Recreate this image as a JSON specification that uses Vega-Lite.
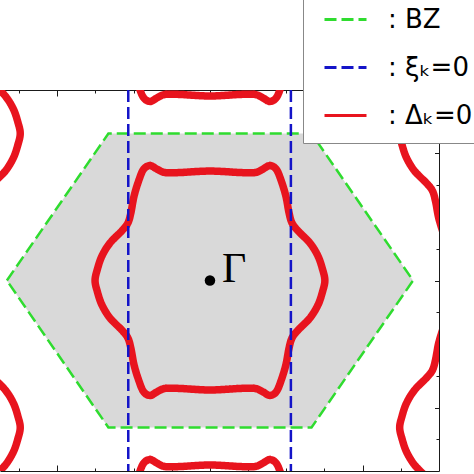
{
  "$schema": "https://vega.github.io/schema/vega-lite/v6.json",
  "autosize": "none",
  "width": 439,
  "height": 381,
  "padding": {"left": 0, "top": 90, "right": 35, "bottom": 3},
  "background": "white",
  "config": {
    "view": {"stroke": null},
    "axis": {"grid": false, "labels": false, "title": null, "domainColor": "#1a1a1a", "tickColor": "#1a1a1a", "domainWidth": 1, "tickWidth": 1},
    "legend": {"padding": 14, "rowPadding": 12, "symbolType": "stroke", "symbolSize": 1764, "symbolStrokeWidth": 3, "symbolOffset": 6,
               "labelOffset": 20, "labelFont": "DejaVu Sans", "labelFontSize": 26, "labelColor": "#000", "labelLimit": 300,
               "fillColor": "white", "strokeColor": "#888", "zindex": 5}
  },
  "datasets": {
    "hex": [
      {"x": -5.32, "y": 0, "y2": 0},
      {"x": -2.66, "y": 4.63, "y2": -4.63},
      {"x": 2.66, "y": 4.63, "y2": -4.63},
      {"x": 5.32, "y": 0, "y2": 0}
    ],
    "bz": [
      {"o": 0, "x": -5.32, "y": 0, "s": ": BZ"},
      {"o": 1, "x": -2.66, "y": 4.63, "s": ": BZ"},
      {"o": 2, "x": 2.66, "y": 4.63, "s": ": BZ"},
      {"o": 3, "x": 5.32, "y": 0, "s": ": BZ"},
      {"o": 4, "x": 2.66, "y": -4.63, "s": ": BZ"},
      {"o": 5, "x": -2.66, "y": -4.63, "s": ": BZ"},
      {"o": 6, "x": -5.32, "y": 0, "s": ": BZ"}
    ],
    "xi": [
      {"x": -2.14, "s": ": ξₖ=0"},
      {"x": 2.12, "s": ": ξₖ=0"}
    ],
    "gamma": [{"x": 0, "y": 0, "label": "Γ"}],
    "delta": [
      {"c": "C", "o": 0, "x": 0, "y": 3.45, "s": ": Δₖ=0"},
      {"c": "C", "o": 1, "x": 0.39, "y": 3.43, "s": ": Δₖ=0"},
      {"c": "C", "o": 2, "x": 0.79, "y": 3.40, "s": ": Δₖ=0"},
      {"c": "C", "o": 3, "x": 1.18, "y": 3.40, "s": ": Δₖ=0"},
      {"c": "C", "o": 4, "x": 1.39, "y": 3.51, "s": ": Δₖ=0"},
      {"c": "C", "o": 5, "x": 1.57, "y": 3.62, "s": ": Δₖ=0"},
      {"c": "C", "o": 6, "x": 1.74, "y": 3.50, "s": ": Δₖ=0"},
      {"c": "C", "o": 7, "x": 1.87, "y": 3.13, "s": ": Δₖ=0"},
      {"c": "C", "o": 8, "x": 1.99, "y": 2.65, "s": ": Δₖ=0"},
      {"c": "C", "o": 9, "x": 2.07, "y": 2.14, "s": ": Δₖ=0"},
      {"c": "C", "o": 10, "x": 2.15, "y": 1.81, "s": ": Δₖ=0"},
      {"c": "C", "o": 11, "x": 2.31, "y": 1.56, "s": ": Δₖ=0"},
      {"c": "C", "o": 12, "x": 2.62, "y": 1.18, "s": ": Δₖ=0"},
      {"c": "C", "o": 13, "x": 2.83, "y": 0.77, "s": ": Δₖ=0"},
      {"c": "C", "o": 14, "x": 2.95, "y": 0.35, "s": ": Δₖ=0"},
      {"c": "C", "o": 15, "x": 3.01, "y": 0, "s": ": Δₖ=0"},
      {"c": "C", "o": 16, "x": 2.95, "y": -0.35, "s": ": Δₖ=0"},
      {"c": "C", "o": 17, "x": 2.83, "y": -0.77, "s": ": Δₖ=0"},
      {"c": "C", "o": 18, "x": 2.62, "y": -1.18, "s": ": Δₖ=0"},
      {"c": "C", "o": 19, "x": 2.31, "y": -1.56, "s": ": Δₖ=0"},
      {"c": "C", "o": 20, "x": 2.15, "y": -1.81, "s": ": Δₖ=0"},
      {"c": "C", "o": 21, "x": 2.07, "y": -2.14, "s": ": Δₖ=0"},
      {"c": "C", "o": 22, "x": 1.99, "y": -2.65, "s": ": Δₖ=0"},
      {"c": "C", "o": 23, "x": 1.87, "y": -3.13, "s": ": Δₖ=0"},
      {"c": "C", "o": 24, "x": 1.74, "y": -3.50, "s": ": Δₖ=0"},
      {"c": "C", "o": 25, "x": 1.57, "y": -3.62, "s": ": Δₖ=0"},
      {"c": "C", "o": 26, "x": 1.39, "y": -3.51, "s": ": Δₖ=0"},
      {"c": "C", "o": 27, "x": 1.18, "y": -3.40, "s": ": Δₖ=0"},
      {"c": "C", "o": 28, "x": 0.79, "y": -3.40, "s": ": Δₖ=0"},
      {"c": "C", "o": 29, "x": 0.39, "y": -3.43, "s": ": Δₖ=0"},
      {"c": "C", "o": 30, "x": 0, "y": -3.45, "s": ": Δₖ=0"},
      {"c": "C", "o": 31, "x": -0.39, "y": -3.43, "s": ": Δₖ=0"},
      {"c": "C", "o": 32, "x": -0.79, "y": -3.40, "s": ": Δₖ=0"},
      {"c": "C", "o": 33, "x": -1.18, "y": -3.40, "s": ": Δₖ=0"},
      {"c": "C", "o": 34, "x": -1.39, "y": -3.51, "s": ": Δₖ=0"},
      {"c": "C", "o": 35, "x": -1.57, "y": -3.62, "s": ": Δₖ=0"},
      {"c": "C", "o": 36, "x": -1.74, "y": -3.50, "s": ": Δₖ=0"},
      {"c": "C", "o": 37, "x": -1.87, "y": -3.13, "s": ": Δₖ=0"},
      {"c": "C", "o": 38, "x": -1.99, "y": -2.65, "s": ": Δₖ=0"},
      {"c": "C", "o": 39, "x": -2.07, "y": -2.14, "s": ": Δₖ=0"},
      {"c": "C", "o": 40, "x": -2.15, "y": -1.81, "s": ": Δₖ=0"},
      {"c": "C", "o": 41, "x": -2.31, "y": -1.56, "s": ": Δₖ=0"},
      {"c": "C", "o": 42, "x": -2.62, "y": -1.18, "s": ": Δₖ=0"},
      {"c": "C", "o": 43, "x": -2.83, "y": -0.77, "s": ": Δₖ=0"},
      {"c": "C", "o": 44, "x": -2.95, "y": -0.35, "s": ": Δₖ=0"},
      {"c": "C", "o": 45, "x": -3.01, "y": 0, "s": ": Δₖ=0"},
      {"c": "C", "o": 46, "x": -2.95, "y": 0.35, "s": ": Δₖ=0"},
      {"c": "C", "o": 47, "x": -2.83, "y": 0.77, "s": ": Δₖ=0"},
      {"c": "C", "o": 48, "x": -2.62, "y": 1.18, "s": ": Δₖ=0"},
      {"c": "C", "o": 49, "x": -2.31, "y": 1.56, "s": ": Δₖ=0"},
      {"c": "C", "o": 50, "x": -2.15, "y": 1.81, "s": ": Δₖ=0"},
      {"c": "C", "o": 51, "x": -2.07, "y": 2.14, "s": ": Δₖ=0"},
      {"c": "C", "o": 52, "x": -1.99, "y": 2.65, "s": ": Δₖ=0"},
      {"c": "C", "o": 53, "x": -1.87, "y": 3.13, "s": ": Δₖ=0"},
      {"c": "C", "o": 54, "x": -1.74, "y": 3.50, "s": ": Δₖ=0"},
      {"c": "C", "o": 55, "x": -1.57, "y": 3.62, "s": ": Δₖ=0"},
      {"c": "C", "o": 56, "x": -1.39, "y": 3.51, "s": ": Δₖ=0"},
      {"c": "C", "o": 57, "x": -1.18, "y": 3.40, "s": ": Δₖ=0"},
      {"c": "C", "o": 58, "x": -0.79, "y": 3.40, "s": ": Δₖ=0"},
      {"c": "C", "o": 59, "x": -0.39, "y": 3.43, "s": ": Δₖ=0"},
      {"c": "C", "o": 60, "x": 0, "y": 3.45, "s": ": Δₖ=0"},

      {"c": "T", "o": 0, "x": 2.07, "y": 7.12, "s": ": Δₖ=0"},
      {"c": "T", "o": 1, "x": 1.99, "y": 6.61, "s": ": Δₖ=0"},
      {"c": "T", "o": 2, "x": 1.87, "y": 6.13, "s": ": Δₖ=0"},
      {"c": "T", "o": 3, "x": 1.74, "y": 5.76, "s": ": Δₖ=0"},
      {"c": "T", "o": 4, "x": 1.57, "y": 5.64, "s": ": Δₖ=0"},
      {"c": "T", "o": 5, "x": 1.39, "y": 5.75, "s": ": Δₖ=0"},
      {"c": "T", "o": 6, "x": 1.18, "y": 5.86, "s": ": Δₖ=0"},
      {"c": "T", "o": 7, "x": 0.79, "y": 5.86, "s": ": Δₖ=0"},
      {"c": "T", "o": 8, "x": 0.39, "y": 5.83, "s": ": Δₖ=0"},
      {"c": "T", "o": 9, "x": 0, "y": 5.81, "s": ": Δₖ=0"},
      {"c": "T", "o": 10, "x": -0.39, "y": 5.83, "s": ": Δₖ=0"},
      {"c": "T", "o": 11, "x": -0.79, "y": 5.86, "s": ": Δₖ=0"},
      {"c": "T", "o": 12, "x": -1.18, "y": 5.86, "s": ": Δₖ=0"},
      {"c": "T", "o": 13, "x": -1.39, "y": 5.75, "s": ": Δₖ=0"},
      {"c": "T", "o": 14, "x": -1.57, "y": 5.64, "s": ": Δₖ=0"},
      {"c": "T", "o": 15, "x": -1.74, "y": 5.76, "s": ": Δₖ=0"},
      {"c": "T", "o": 16, "x": -1.87, "y": 6.13, "s": ": Δₖ=0"},
      {"c": "T", "o": 17, "x": -1.99, "y": 6.61, "s": ": Δₖ=0"},
      {"c": "T", "o": 18, "x": -2.07, "y": 7.12, "s": ": Δₖ=0"},

      {"c": "B", "o": 0, "x": -2.07, "y": -7.12, "s": ": Δₖ=0"},
      {"c": "B", "o": 1, "x": -1.99, "y": -6.61, "s": ": Δₖ=0"},
      {"c": "B", "o": 2, "x": -1.87, "y": -6.13, "s": ": Δₖ=0"},
      {"c": "B", "o": 3, "x": -1.74, "y": -5.76, "s": ": Δₖ=0"},
      {"c": "B", "o": 4, "x": -1.57, "y": -5.64, "s": ": Δₖ=0"},
      {"c": "B", "o": 5, "x": -1.39, "y": -5.75, "s": ": Δₖ=0"},
      {"c": "B", "o": 6, "x": -1.18, "y": -5.86, "s": ": Δₖ=0"},
      {"c": "B", "o": 7, "x": -0.79, "y": -5.86, "s": ": Δₖ=0"},
      {"c": "B", "o": 8, "x": -0.39, "y": -5.83, "s": ": Δₖ=0"},
      {"c": "B", "o": 9, "x": 0, "y": -5.81, "s": ": Δₖ=0"},
      {"c": "B", "o": 10, "x": 0.39, "y": -5.83, "s": ": Δₖ=0"},
      {"c": "B", "o": 11, "x": 0.79, "y": -5.86, "s": ": Δₖ=0"},
      {"c": "B", "o": 12, "x": 1.18, "y": -5.86, "s": ": Δₖ=0"},
      {"c": "B", "o": 13, "x": 1.39, "y": -5.75, "s": ": Δₖ=0"},
      {"c": "B", "o": 14, "x": 1.57, "y": -5.64, "s": ": Δₖ=0"},
      {"c": "B", "o": 15, "x": 1.74, "y": -5.76, "s": ": Δₖ=0"},
      {"c": "B", "o": 16, "x": 1.87, "y": -6.13, "s": ": Δₖ=0"},
      {"c": "B", "o": 17, "x": 1.99, "y": -6.61, "s": ": Δₖ=0"},
      {"c": "B", "o": 18, "x": 2.07, "y": -7.12, "s": ": Δₖ=0"},

      {"c": "RU", "o": 0, "x": 6.11, "y": 7.76, "s": ": Δₖ=0"},
      {"c": "RU", "o": 1, "x": 5.99, "y": 7.28, "s": ": Δₖ=0"},
      {"c": "RU", "o": 2, "x": 5.91, "y": 6.77, "s": ": Δₖ=0"},
      {"c": "RU", "o": 3, "x": 5.83, "y": 6.44, "s": ": Δₖ=0"},
      {"c": "RU", "o": 4, "x": 5.67, "y": 6.19, "s": ": Δₖ=0"},
      {"c": "RU", "o": 5, "x": 5.36, "y": 5.81, "s": ": Δₖ=0"},
      {"c": "RU", "o": 6, "x": 5.15, "y": 5.40, "s": ": Δₖ=0"},
      {"c": "RU", "o": 7, "x": 5.03, "y": 4.98, "s": ": Δₖ=0"},
      {"c": "RU", "o": 8, "x": 4.97, "y": 4.63, "s": ": Δₖ=0"},
      {"c": "RU", "o": 9, "x": 5.03, "y": 4.28, "s": ": Δₖ=0"},
      {"c": "RU", "o": 10, "x": 5.15, "y": 3.86, "s": ": Δₖ=0"},
      {"c": "RU", "o": 11, "x": 5.36, "y": 3.45, "s": ": Δₖ=0"},
      {"c": "RU", "o": 12, "x": 5.67, "y": 3.07, "s": ": Δₖ=0"},
      {"c": "RU", "o": 13, "x": 5.83, "y": 2.82, "s": ": Δₖ=0"},
      {"c": "RU", "o": 14, "x": 5.91, "y": 2.49, "s": ": Δₖ=0"},
      {"c": "RU", "o": 15, "x": 5.99, "y": 1.98, "s": ": Δₖ=0"},
      {"c": "RU", "o": 16, "x": 6.11, "y": 1.50, "s": ": Δₖ=0"},

      {"c": "RD", "o": 0, "x": 6.11, "y": -1.50, "s": ": Δₖ=0"},
      {"c": "RD", "o": 1, "x": 5.99, "y": -1.98, "s": ": Δₖ=0"},
      {"c": "RD", "o": 2, "x": 5.91, "y": -2.49, "s": ": Δₖ=0"},
      {"c": "RD", "o": 3, "x": 5.83, "y": -2.82, "s": ": Δₖ=0"},
      {"c": "RD", "o": 4, "x": 5.67, "y": -3.07, "s": ": Δₖ=0"},
      {"c": "RD", "o": 5, "x": 5.36, "y": -3.45, "s": ": Δₖ=0"},
      {"c": "RD", "o": 6, "x": 5.15, "y": -3.86, "s": ": Δₖ=0"},
      {"c": "RD", "o": 7, "x": 5.03, "y": -4.28, "s": ": Δₖ=0"},
      {"c": "RD", "o": 8, "x": 4.97, "y": -4.63, "s": ": Δₖ=0"},
      {"c": "RD", "o": 9, "x": 5.03, "y": -4.98, "s": ": Δₖ=0"},
      {"c": "RD", "o": 10, "x": 5.15, "y": -5.40, "s": ": Δₖ=0"},
      {"c": "RD", "o": 11, "x": 5.36, "y": -5.81, "s": ": Δₖ=0"},
      {"c": "RD", "o": 12, "x": 5.67, "y": -6.19, "s": ": Δₖ=0"},
      {"c": "RD", "o": 13, "x": 5.83, "y": -6.44, "s": ": Δₖ=0"},
      {"c": "RD", "o": 14, "x": 5.91, "y": -6.77, "s": ": Δₖ=0"},
      {"c": "RD", "o": 15, "x": 5.99, "y": -7.28, "s": ": Δₖ=0"},
      {"c": "RD", "o": 16, "x": 6.11, "y": -7.76, "s": ": Δₖ=0"},

      {"c": "LU", "o": 0, "x": -6.11, "y": 7.76, "s": ": Δₖ=0"},
      {"c": "LU", "o": 1, "x": -5.99, "y": 7.28, "s": ": Δₖ=0"},
      {"c": "LU", "o": 2, "x": -5.91, "y": 6.77, "s": ": Δₖ=0"},
      {"c": "LU", "o": 3, "x": -5.83, "y": 6.44, "s": ": Δₖ=0"},
      {"c": "LU", "o": 4, "x": -5.67, "y": 6.19, "s": ": Δₖ=0"},
      {"c": "LU", "o": 5, "x": -5.36, "y": 5.81, "s": ": Δₖ=0"},
      {"c": "LU", "o": 6, "x": -5.15, "y": 5.40, "s": ": Δₖ=0"},
      {"c": "LU", "o": 7, "x": -5.03, "y": 4.98, "s": ": Δₖ=0"},
      {"c": "LU", "o": 8, "x": -4.97, "y": 4.63, "s": ": Δₖ=0"},
      {"c": "LU", "o": 9, "x": -5.03, "y": 4.28, "s": ": Δₖ=0"},
      {"c": "LU", "o": 10, "x": -5.15, "y": 3.86, "s": ": Δₖ=0"},
      {"c": "LU", "o": 11, "x": -5.36, "y": 3.45, "s": ": Δₖ=0"},
      {"c": "LU", "o": 12, "x": -5.67, "y": 3.07, "s": ": Δₖ=0"},
      {"c": "LU", "o": 13, "x": -5.83, "y": 2.82, "s": ": Δₖ=0"},
      {"c": "LU", "o": 14, "x": -5.91, "y": 2.49, "s": ": Δₖ=0"},
      {"c": "LU", "o": 15, "x": -5.99, "y": 1.98, "s": ": Δₖ=0"},
      {"c": "LU", "o": 16, "x": -6.11, "y": 1.50, "s": ": Δₖ=0"},

      {"c": "LD", "o": 0, "x": -6.11, "y": -1.50, "s": ": Δₖ=0"},
      {"c": "LD", "o": 1, "x": -5.99, "y": -1.98, "s": ": Δₖ=0"},
      {"c": "LD", "o": 2, "x": -5.91, "y": -2.49, "s": ": Δₖ=0"},
      {"c": "LD", "o": 3, "x": -5.83, "y": -2.82, "s": ": Δₖ=0"},
      {"c": "LD", "o": 4, "x": -5.67, "y": -3.07, "s": ": Δₖ=0"},
      {"c": "LD", "o": 5, "x": -5.36, "y": -3.45, "s": ": Δₖ=0"},
      {"c": "LD", "o": 6, "x": -5.15, "y": -3.86, "s": ": Δₖ=0"},
      {"c": "LD", "o": 7, "x": -5.03, "y": -4.28, "s": ": Δₖ=0"},
      {"c": "LD", "o": 8, "x": -4.97, "y": -4.63, "s": ": Δₖ=0"},
      {"c": "LD", "o": 9, "x": -5.03, "y": -4.98, "s": ": Δₖ=0"},
      {"c": "LD", "o": 10, "x": -5.15, "y": -5.40, "s": ": Δₖ=0"},
      {"c": "LD", "o": 11, "x": -5.36, "y": -5.81, "s": ": Δₖ=0"},
      {"c": "LD", "o": 12, "x": -5.67, "y": -6.19, "s": ": Δₖ=0"},
      {"c": "LD", "o": 13, "x": -5.83, "y": -6.44, "s": ": Δₖ=0"},
      {"c": "LD", "o": 14, "x": -5.91, "y": -6.77, "s": ": Δₖ=0"},
      {"c": "LD", "o": 15, "x": -5.99, "y": -7.28, "s": ": Δₖ=0"},
      {"c": "LD", "o": 16, "x": -6.11, "y": -7.76, "s": ": Δₖ=0"}
    ]
  },
  "layer": [
    {
      "data": {"name": "hex"},
      "mark": {"type": "area", "color": "#d9d9d9", "clip": true},
      "encoding": {
        "x": {"field": "x", "type": "quantitative", "scale": {"domain": [-5.5, 6], "nice": false, "zero": false},
              "axis": {"orient": "bottom", "values": [-5, -4, -3, -2, -1, 0, 1, 2, 3, 4, 5], "tickSize": -3}},
        "y": {"field": "y", "type": "quantitative", "scale": {"domain": [-6, 6], "nice": false, "zero": false},
              "axis": {"orient": "right", "values": [-5, -4, -3, -2, -1, 0, 1, 2, 3, 4, 5], "tickSize": -3}},
        "y2": {"field": "y2"}
      }
    },
    {
      "data": {"name": "bz"},
      "mark": {"type": "line", "strokeWidth": 2.5, "clip": true},
      "encoding": {
        "x": {"field": "x", "type": "quantitative", "axis": {"orient": "top", "values": [-5, -4, -3, -2, -1, 0, 1, 2, 3, 4, 5], "tickSize": -3}},
        "y": {"field": "y", "type": "quantitative", "axis": {"orient": "right", "values": [-4, 0, 4], "tickSize": -4.5, "domain": false}},
        "order": {"field": "o"},
        "color": {"field": "s", "type": "nominal",
                  "scale": {"domain": [": BZ", ": ξₖ=0", ": Δₖ=0"], "range": ["#2fdc2f", "#1414c8", "#e8141e"]},
                  "legend": {"orient": "none", "legendX": 303, "legendY": -107, "title": null, "labelFontSize": 26, "labelFont": "DejaVu Sans", "rowPadding": 12}},
        "strokeDash": {"field": "s", "type": "nominal",
                  "scale": {"domain": [": BZ", ": ξₖ=0", ": Δₖ=0"], "range": [[12, 5], [12, 5], [1, 0]]},
                  "legend": {"orient": "none", "legendX": 303, "legendY": -107, "title": null, "labelFontSize": 26, "labelFont": "DejaVu Sans", "rowPadding": 12}}
      }
    },
    {
      "data": {"name": "delta"},
      "mark": {"type": "line", "strokeWidth": 7.5, "interpolate": "cardinal", "strokeCap": "round", "strokeJoin": "round", "clip": true},
      "encoding": {
        "x": {"field": "x", "type": "quantitative", "axis": null},
        "y": {"field": "y", "type": "quantitative", "axis": null},
        "detail": {"field": "c"},
        "order": {"field": "o"},
        "color": {"field": "s", "type": "nominal"},
        "strokeDash": {"field": "s", "type": "nominal"}
      }
    },
    {
      "data": {"name": "xi"},
      "mark": {"type": "rule", "strokeWidth": 2.5, "clip": true},
      "encoding": {
        "x": {"field": "x", "type": "quantitative", "axis": null},
        "color": {"field": "s", "type": "nominal"},
        "strokeDash": {"field": "s", "type": "nominal"}
      }
    },
    {
      "data": {"name": "gamma"},
      "mark": {"type": "point", "filled": true, "shape": "circle", "size": 110, "color": "#000", "opacity": 1},
      "encoding": {
        "x": {"field": "x", "type": "quantitative", "axis": {"orient": "bottom", "values": [-4, 0, 4], "tickSize": -6, "domain": false}},
        "y": {"field": "y", "type": "quantitative", "axis": null}
      }
    },
    {
      "data": {"name": "gamma"},
      "mark": {"type": "text", "font": "Liberation Serif", "fontSize": 42, "align": "left", "baseline": "alphabetic", "dx": 12, "dy": 1, "color": "#000"},
      "encoding": {
        "x": {"field": "x", "type": "quantitative", "axis": {"orient": "top", "values": [-4, 0, 4], "tickSize": -6, "domain": false}},
        "y": {"field": "y", "type": "quantitative", "axis": null},
        "text": {"field": "label"}
      }
    }
  ],
  "resolve": {"axis": {"x": "independent", "y": "independent"}}
}
